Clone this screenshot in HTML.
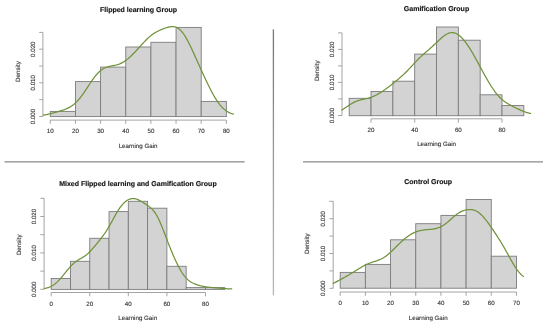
<!DOCTYPE html>
<html><head><meta charset="utf-8"><style>
html,body{margin:0;padding:0;background:#fff;}
svg{display:block;text-rendering:geometricPrecision;}
.t{font-family:"Liberation Sans",Arial,sans-serif;font-weight:bold;font-size:7.0px;fill:#111;stroke:#222;stroke-width:0.15px;}
.l{font-family:"Liberation Sans",Arial,sans-serif;font-size:6.2px;fill:#222;stroke:#555;stroke-width:0.12px;}
.bar{fill:#d3d3d3;stroke:#7c7c7c;stroke-width:0.9;}
.ax{stroke:#9a9a9a;stroke-width:0.9;fill:none;}
.cv{stroke:#70933a;stroke-width:1.25;fill:none;stroke-linejoin:round;stroke-linecap:round;}
.sep{stroke:#8a8a8a;stroke-width:1.2;}
</style></head><body>
<svg width="550" height="326" viewBox="0 0 550 326">
<text x="138.5" y="11.8" text-anchor="middle" class="t">Flipped learning Group</text>
<rect x="50.30" y="111.40" width="25.15" height="5.20" class="bar"/>
<rect x="75.45" y="81.60" width="25.15" height="35.00" class="bar"/>
<rect x="100.60" y="67.10" width="25.15" height="49.50" class="bar"/>
<rect x="125.75" y="47.00" width="25.15" height="69.60" class="bar"/>
<rect x="150.90" y="42.30" width="25.15" height="74.30" class="bar"/>
<rect x="176.05" y="27.40" width="25.15" height="89.20" class="bar"/>
<rect x="201.20" y="101.40" width="25.15" height="15.20" class="bar"/>
<line x1="42.9" y1="116.5" x2="42.9" y2="32.4" class="ax"/>
<line x1="42.9" y1="116.5" x2="39.199999999999996" y2="116.5" class="ax"/>
<line x1="42.9" y1="99.7" x2="39.199999999999996" y2="99.7" class="ax"/>
<line x1="42.9" y1="82.8" x2="39.199999999999996" y2="82.8" class="ax"/>
<line x1="42.9" y1="66.0" x2="39.199999999999996" y2="66.0" class="ax"/>
<line x1="42.9" y1="49.2" x2="39.199999999999996" y2="49.2" class="ax"/>
<line x1="42.9" y1="32.4" x2="39.199999999999996" y2="32.4" class="ax"/>
<text transform="translate(34.9,116.5) rotate(-90)" text-anchor="middle" class="l">0.000</text>
<text transform="translate(34.9,82.8) rotate(-90)" text-anchor="middle" class="l">0.010</text>
<text transform="translate(34.9,49.2) rotate(-90)" text-anchor="middle" class="l">0.020</text>
<text transform="translate(20.1,71.6) rotate(-90)" text-anchor="middle" class="l">Density</text>
<line x1="50.3" y1="120.1" x2="226.35" y2="120.1" class="ax"/>
<line x1="50.3" y1="120.1" x2="50.3" y2="123.8" class="ax"/>
<text x="50.3" y="133.1" text-anchor="middle" class="l">10</text>
<line x1="75.45" y1="120.1" x2="75.45" y2="123.8" class="ax"/>
<text x="75.45" y="133.1" text-anchor="middle" class="l">20</text>
<line x1="100.6" y1="120.1" x2="100.6" y2="123.8" class="ax"/>
<text x="100.6" y="133.1" text-anchor="middle" class="l">30</text>
<line x1="125.75" y1="120.1" x2="125.75" y2="123.8" class="ax"/>
<text x="125.75" y="133.1" text-anchor="middle" class="l">40</text>
<line x1="150.9" y1="120.1" x2="150.9" y2="123.8" class="ax"/>
<text x="150.9" y="133.1" text-anchor="middle" class="l">50</text>
<line x1="176.05" y1="120.1" x2="176.05" y2="123.8" class="ax"/>
<text x="176.05" y="133.1" text-anchor="middle" class="l">60</text>
<line x1="201.2" y1="120.1" x2="201.2" y2="123.8" class="ax"/>
<text x="201.2" y="133.1" text-anchor="middle" class="l">70</text>
<line x1="226.35" y1="120.1" x2="226.35" y2="123.8" class="ax"/>
<text x="226.35" y="133.1" text-anchor="middle" class="l">80</text>
<text x="138.1" y="147.5" text-anchor="middle" class="l">Learning Gain</text>
<path d="M43.30,115.21 L43.80,115.13 L44.30,115.04 L44.80,114.95 L45.30,114.86 L45.80,114.76 L46.30,114.66 L46.80,114.56 L47.30,114.45 L47.80,114.34 L48.30,114.23 L48.80,114.11 L49.30,113.99 L49.80,113.87 L50.30,113.75 L50.80,113.62 L51.30,113.50 L51.80,113.37 L52.30,113.23 L52.80,113.10 L53.30,112.96 L53.80,112.83 L54.30,112.69 L54.80,112.55 L55.30,112.41 L55.80,112.27 L56.30,112.12 L56.80,111.98 L57.30,111.84 L57.80,111.69 L58.30,111.54 L58.80,111.39 L59.30,111.24 L59.80,111.09 L60.30,110.94 L60.80,110.78 L61.30,110.63 L61.80,110.47 L62.30,110.30 L62.80,110.14 L63.30,109.97 L63.80,109.79 L64.30,109.61 L64.80,109.43 L65.30,109.23 L65.80,109.04 L66.30,108.83 L66.80,108.62 L67.30,108.40 L67.80,108.16 L68.30,107.92 L68.80,107.67 L69.30,107.41 L69.80,107.13 L70.30,106.84 L70.80,106.54 L71.30,106.22 L71.80,105.89 L72.30,105.55 L72.80,105.18 L73.30,104.80 L73.80,104.41 L74.30,103.99 L74.80,103.56 L75.30,103.11 L75.80,102.65 L76.30,102.16 L76.80,101.66 L77.30,101.13 L77.80,100.59 L78.30,100.03 L78.80,99.46 L79.30,98.86 L79.80,98.25 L80.30,97.62 L80.80,96.98 L81.30,96.32 L81.80,95.65 L82.30,94.96 L82.80,94.26 L83.30,93.55 L83.80,92.83 L84.30,92.10 L84.80,91.36 L85.30,90.61 L85.80,89.86 L86.30,89.10 L86.80,88.34 L87.30,87.58 L87.80,86.81 L88.30,86.05 L88.80,85.29 L89.30,84.53 L89.80,83.77 L90.30,83.02 L90.80,82.28 L91.30,81.55 L91.80,80.82 L92.30,80.11 L92.80,79.41 L93.30,78.72 L93.80,78.04 L94.30,77.38 L94.80,76.73 L95.30,76.10 L95.80,75.49 L96.30,74.90 L96.80,74.33 L97.30,73.77 L97.80,73.24 L98.30,72.73 L98.80,72.23 L99.30,71.76 L99.80,71.31 L100.30,70.88 L100.80,70.47 L101.30,70.09 L101.80,69.72 L102.30,69.38 L102.80,69.06 L103.30,68.75 L103.80,68.47 L104.30,68.21 L104.80,67.96 L105.30,67.73 L105.80,67.52 L106.30,67.33 L106.80,67.15 L107.30,66.98 L107.80,66.83 L108.30,66.69 L108.80,66.55 L109.30,66.43 L109.80,66.32 L110.30,66.21 L110.80,66.11 L111.30,66.02 L111.80,65.92 L112.30,65.83 L112.80,65.74 L113.30,65.65 L113.80,65.55 L114.30,65.45 L114.80,65.35 L115.30,65.24 L115.80,65.13 L116.30,65.00 L116.80,64.87 L117.30,64.73 L117.80,64.58 L118.30,64.42 L118.80,64.24 L119.30,64.06 L119.80,63.86 L120.30,63.65 L120.80,63.42 L121.30,63.18 L121.80,62.93 L122.30,62.66 L122.80,62.38 L123.30,62.09 L123.80,61.78 L124.30,61.46 L124.80,61.13 L125.30,60.78 L125.80,60.42 L126.30,60.05 L126.80,59.67 L127.30,59.27 L127.80,58.87 L128.30,58.45 L128.80,58.02 L129.30,57.58 L129.80,57.13 L130.30,56.68 L130.80,56.21 L131.30,55.73 L131.80,55.25 L132.30,54.76 L132.80,54.26 L133.30,53.76 L133.80,53.25 L134.30,52.73 L134.80,52.21 L135.30,51.68 L135.80,51.15 L136.30,50.61 L136.80,50.07 L137.30,49.52 L137.80,48.97 L138.30,48.42 L138.80,47.87 L139.30,47.32 L139.80,46.76 L140.30,46.21 L140.80,45.65 L141.30,45.10 L141.80,44.55 L142.30,44.00 L142.80,43.46 L143.30,42.91 L143.80,42.38 L144.30,41.84 L144.80,41.32 L145.30,40.80 L145.80,40.29 L146.30,39.78 L146.80,39.29 L147.30,38.80 L147.80,38.33 L148.30,37.86 L148.80,37.41 L149.30,36.96 L149.80,36.53 L150.30,36.11 L150.80,35.70 L151.30,35.30 L151.80,34.92 L152.30,34.54 L152.80,34.18 L153.30,33.83 L153.80,33.50 L154.30,33.17 L154.80,32.86 L155.30,32.55 L155.80,32.26 L156.30,31.98 L156.80,31.71 L157.30,31.44 L157.80,31.18 L158.30,30.94 L158.80,30.70 L159.30,30.46 L159.80,30.23 L160.30,30.01 L160.80,29.80 L161.30,29.59 L161.80,29.38 L162.30,29.18 L162.80,28.98 L163.30,28.79 L163.80,28.60 L164.30,28.42 L164.80,28.24 L165.30,28.07 L165.80,27.90 L166.30,27.74 L166.80,27.58 L167.30,27.44 L167.80,27.30 L168.30,27.17 L168.80,27.05 L169.30,26.94 L169.80,26.84 L170.30,26.76 L170.80,26.69 L171.30,26.64 L171.80,26.60 L172.30,26.59 L172.80,26.59 L173.30,26.62 L173.80,26.67 L174.30,26.75 L174.80,26.85 L175.30,26.98 L175.80,27.14 L176.30,27.33 L176.80,27.56 L177.30,27.81 L177.80,28.09 L178.30,28.42 L178.80,28.77 L179.30,29.16 L179.80,29.59 L180.30,30.05 L180.80,30.54 L181.30,31.08 L181.80,31.64 L182.30,32.25 L182.80,32.89 L183.30,33.56 L183.80,34.26 L184.30,35.00 L184.80,35.77 L185.30,36.57 L185.80,37.40 L186.30,38.26 L186.80,39.14 L187.30,40.05 L187.80,40.98 L188.30,41.93 L188.80,42.91 L189.30,43.90 L189.80,44.91 L190.30,45.93 L190.80,46.97 L191.30,48.03 L191.80,49.09 L192.30,50.17 L192.80,51.25 L193.30,52.34 L193.80,53.44 L194.30,54.54 L194.80,55.65 L195.30,56.76 L195.80,57.87 L196.30,58.99 L196.80,60.11 L197.30,61.22 L197.80,62.34 L198.30,63.45 L198.80,64.57 L199.30,65.68 L199.80,66.79 L200.30,67.90 L200.80,69.00 L201.30,70.11 L201.80,71.20 L202.30,72.30 L202.80,73.39 L203.30,74.48 L203.80,75.56 L204.30,76.64 L204.80,77.72 L205.30,78.79 L205.80,79.85 L206.30,80.90 L206.80,81.95 L207.30,83.00 L207.80,84.03 L208.30,85.06 L208.80,86.07 L209.30,87.08 L209.80,88.07 L210.30,89.06 L210.80,90.03 L211.30,90.99 L211.80,91.93 L212.30,92.87 L212.80,93.78 L213.30,94.68 L213.80,95.56 L214.30,96.43 L214.80,97.28 L215.30,98.10 L215.80,98.91 L216.30,99.70 L216.80,100.47 L217.30,101.22 L217.80,101.94 L218.30,102.64 L218.80,103.33 L219.30,103.98 L219.80,104.62 L220.30,105.23 L220.80,105.82 L221.30,106.39 L221.80,106.94 L222.30,107.46 L222.80,107.96 L223.30,108.43 L223.80,108.89 L224.30,109.33 L224.80,109.74 L225.30,110.13 L225.80,110.51 L226.30,110.86 L226.80,111.20 L227.30,111.51 L227.80,111.81 L228.30,112.09 L228.80,112.36 L229.30,112.61 L229.80,112.85 L230.30,113.07 L230.80,113.28 L231.30,113.47 L231.80,113.65 L232.30,113.83 L232.80,113.99 L233.30,114.14 L233.40,114.17" class="cv"/>
<text x="436.5" y="11.3" text-anchor="middle" class="t">Gamification Group</text>
<rect x="349.20" y="98.30" width="21.83" height="17.40" class="bar"/>
<rect x="371.03" y="91.50" width="21.83" height="24.20" class="bar"/>
<rect x="392.86" y="81.20" width="21.83" height="34.50" class="bar"/>
<rect x="414.69" y="54.10" width="21.83" height="61.60" class="bar"/>
<rect x="436.52" y="27.00" width="21.83" height="88.70" class="bar"/>
<rect x="458.35" y="40.20" width="21.83" height="75.50" class="bar"/>
<rect x="480.18" y="94.80" width="21.83" height="20.90" class="bar"/>
<rect x="502.01" y="105.50" width="21.83" height="10.20" class="bar"/>
<line x1="342.0" y1="115.5" x2="342.0" y2="32.9" class="ax"/>
<line x1="342.0" y1="115.5" x2="338.1" y2="115.5" class="ax"/>
<line x1="342.0" y1="98.9" x2="338.1" y2="98.9" class="ax"/>
<line x1="342.0" y1="82.4" x2="338.1" y2="82.4" class="ax"/>
<line x1="342.0" y1="65.9" x2="338.1" y2="65.9" class="ax"/>
<line x1="342.0" y1="49.4" x2="338.1" y2="49.4" class="ax"/>
<line x1="342.0" y1="32.9" x2="338.1" y2="32.9" class="ax"/>
<text transform="translate(334.4,115.5) rotate(-90)" text-anchor="middle" class="l">0.000</text>
<text transform="translate(334.4,82.4) rotate(-90)" text-anchor="middle" class="l">0.010</text>
<text transform="translate(334.4,49.4) rotate(-90)" text-anchor="middle" class="l">0.020</text>
<text transform="translate(319.1,70.8) rotate(-90)" text-anchor="middle" class="l">Density</text>
<line x1="371.03" y1="118.8" x2="502.01" y2="118.8" class="ax"/>
<line x1="371.03" y1="118.8" x2="371.03" y2="122.7" class="ax"/>
<text x="371.03" y="131.7" text-anchor="middle" class="l">20</text>
<line x1="414.69" y1="118.8" x2="414.69" y2="122.7" class="ax"/>
<text x="414.69" y="131.7" text-anchor="middle" class="l">40</text>
<line x1="458.35" y1="118.8" x2="458.35" y2="122.7" class="ax"/>
<text x="458.35" y="131.7" text-anchor="middle" class="l">60</text>
<line x1="502.01" y1="118.8" x2="502.01" y2="122.7" class="ax"/>
<text x="502.01" y="131.7" text-anchor="middle" class="l">80</text>
<text x="436.6" y="145.8" text-anchor="middle" class="l">Learning Gain</text>
<path d="M341.90,109.96 L342.40,109.66 L342.90,109.35 L343.40,109.03 L343.90,108.71 L344.40,108.38 L344.90,108.05 L345.40,107.71 L345.90,107.38 L346.40,107.04 L346.90,106.70 L347.40,106.36 L347.90,106.03 L348.40,105.69 L348.90,105.36 L349.40,105.03 L349.90,104.71 L350.40,104.40 L350.90,104.09 L351.40,103.78 L351.90,103.49 L352.40,103.20 L352.90,102.92 L353.40,102.65 L353.90,102.40 L354.40,102.15 L354.90,101.91 L355.40,101.68 L355.90,101.47 L356.40,101.26 L356.90,101.07 L357.40,100.88 L357.90,100.71 L358.40,100.54 L358.90,100.38 L359.40,100.24 L359.90,100.10 L360.40,99.96 L360.90,99.83 L361.40,99.71 L361.90,99.60 L362.40,99.48 L362.90,99.37 L363.40,99.27 L363.90,99.16 L364.40,99.05 L364.90,98.95 L365.40,98.84 L365.90,98.73 L366.40,98.62 L366.90,98.50 L367.40,98.38 L367.90,98.25 L368.40,98.12 L368.90,97.98 L369.40,97.83 L369.90,97.68 L370.40,97.52 L370.90,97.35 L371.40,97.17 L371.90,96.99 L372.40,96.79 L372.90,96.59 L373.40,96.38 L373.90,96.17 L374.40,95.94 L374.90,95.70 L375.40,95.46 L375.90,95.21 L376.40,94.96 L376.90,94.69 L377.40,94.42 L377.90,94.14 L378.40,93.85 L378.90,93.56 L379.40,93.26 L379.90,92.96 L380.40,92.65 L380.90,92.34 L381.40,92.02 L381.90,91.69 L382.40,91.36 L382.90,91.02 L383.40,90.69 L383.90,90.34 L384.40,89.99 L384.90,89.64 L385.40,89.29 L385.90,88.93 L386.40,88.56 L386.90,88.20 L387.40,87.83 L387.90,87.45 L388.40,87.08 L388.90,86.70 L389.40,86.31 L389.90,85.93 L390.40,85.54 L390.90,85.15 L391.40,84.76 L391.90,84.37 L392.40,83.97 L392.90,83.57 L393.40,83.17 L393.90,82.77 L394.40,82.37 L394.90,81.96 L395.40,81.55 L395.90,81.14 L396.40,80.73 L396.90,80.32 L397.40,79.90 L397.90,79.48 L398.40,79.06 L398.90,78.63 L399.40,78.20 L399.90,77.77 L400.40,77.34 L400.90,76.90 L401.40,76.45 L401.90,76.00 L402.40,75.55 L402.90,75.09 L403.40,74.63 L403.90,74.16 L404.40,73.68 L404.90,73.20 L405.40,72.71 L405.90,72.22 L406.40,71.72 L406.90,71.22 L407.40,70.71 L407.90,70.19 L408.40,69.67 L408.90,69.15 L409.40,68.62 L409.90,68.09 L410.40,67.55 L410.90,67.01 L411.40,66.47 L411.90,65.93 L412.40,65.39 L412.90,64.85 L413.40,64.31 L413.90,63.77 L414.40,63.23 L414.90,62.69 L415.40,62.16 L415.90,61.63 L416.40,61.11 L416.90,60.59 L417.40,60.07 L417.90,59.56 L418.40,59.06 L418.90,58.56 L419.40,58.07 L419.90,57.58 L420.40,57.10 L420.90,56.63 L421.40,56.16 L421.90,55.70 L422.40,55.24 L422.90,54.79 L423.40,54.34 L423.90,53.89 L424.40,53.45 L424.90,53.01 L425.40,52.58 L425.90,52.14 L426.40,51.71 L426.90,51.28 L427.40,50.85 L427.90,50.41 L428.40,49.98 L428.90,49.55 L429.40,49.11 L429.90,48.67 L430.40,48.23 L430.90,47.78 L431.40,47.33 L431.90,46.88 L432.40,46.43 L432.90,45.97 L433.40,45.51 L433.90,45.04 L434.40,44.57 L434.90,44.10 L435.40,43.63 L435.90,43.16 L436.40,42.68 L436.90,42.20 L437.40,41.73 L437.90,41.25 L438.40,40.78 L438.90,40.31 L439.40,39.84 L439.90,39.38 L440.40,38.92 L440.90,38.47 L441.40,38.03 L441.90,37.59 L442.40,37.17 L442.90,36.76 L443.40,36.36 L443.90,35.97 L444.40,35.60 L444.90,35.25 L445.40,34.91 L445.90,34.59 L446.40,34.30 L446.90,34.02 L447.40,33.77 L447.90,33.53 L448.40,33.33 L448.90,33.14 L449.40,32.99 L449.90,32.86 L450.40,32.75 L450.90,32.67 L451.40,32.63 L451.90,32.60 L452.40,32.61 L452.90,32.65 L453.40,32.71 L453.90,32.80 L454.40,32.92 L454.90,33.07 L455.40,33.25 L455.90,33.45 L456.40,33.68 L456.90,33.94 L457.40,34.23 L457.90,34.54 L458.40,34.88 L458.90,35.24 L459.40,35.63 L459.90,36.05 L460.40,36.48 L460.90,36.94 L461.40,37.43 L461.90,37.93 L462.40,38.46 L462.90,39.01 L463.40,39.58 L463.90,40.17 L464.40,40.77 L464.90,41.40 L465.40,42.05 L465.90,42.72 L466.40,43.40 L466.90,44.10 L467.40,44.82 L467.90,45.55 L468.40,46.30 L468.90,47.06 L469.40,47.84 L469.90,48.64 L470.40,49.44 L470.90,50.26 L471.40,51.09 L471.90,51.93 L472.40,52.78 L472.90,53.65 L473.40,54.52 L473.90,55.40 L474.40,56.29 L474.90,57.18 L475.40,58.08 L475.90,58.99 L476.40,59.90 L476.90,60.81 L477.40,61.73 L477.90,62.65 L478.40,63.58 L478.90,64.50 L479.40,65.43 L479.90,66.36 L480.40,67.28 L480.90,68.21 L481.40,69.13 L481.90,70.05 L482.40,70.97 L482.90,71.89 L483.40,72.80 L483.90,73.71 L484.40,74.61 L484.90,75.51 L485.40,76.40 L485.90,77.29 L486.40,78.17 L486.90,79.04 L487.40,79.91 L487.90,80.77 L488.40,81.62 L488.90,82.46 L489.40,83.29 L489.90,84.11 L490.40,84.91 L490.90,85.71 L491.40,86.50 L491.90,87.27 L492.40,88.03 L492.90,88.77 L493.40,89.50 L493.90,90.22 L494.40,90.92 L494.90,91.60 L495.40,92.27 L495.90,92.92 L496.40,93.56 L496.90,94.17 L497.40,94.77 L497.90,95.36 L498.40,95.92 L498.90,96.47 L499.40,97.00 L499.90,97.51 L500.40,98.00 L500.90,98.48 L501.40,98.95 L501.90,99.39 L502.40,99.82 L502.90,100.24 L503.40,100.64 L503.90,101.03 L504.40,101.40 L504.90,101.76 L505.40,102.11 L505.90,102.45 L506.40,102.78 L506.90,103.10 L507.40,103.41 L507.90,103.72 L508.40,104.01 L508.90,104.30 L509.40,104.59 L509.90,104.86 L510.40,105.14 L510.90,105.41 L511.40,105.68 L511.90,105.94 L512.40,106.20 L512.90,106.46 L513.40,106.72 L513.90,106.97 L514.40,107.22 L514.90,107.48 L515.40,107.73 L515.90,107.97 L516.40,108.22 L516.90,108.46 L517.40,108.71 L517.90,108.94 L518.40,109.18 L518.90,109.42 L519.40,109.65 L519.90,109.88 L520.40,110.10 L520.90,110.32 L521.40,110.54 L521.90,110.75 L522.40,110.95 L522.90,111.15 L523.40,111.35 L523.90,111.54 L524.40,111.72 L524.90,111.90 L525.40,112.07 L525.90,112.23 L526.40,112.39 L526.90,112.54 L527.40,112.68 L527.90,112.82 L528.40,112.95 L528.90,113.07 L529.40,113.19 L529.90,113.29 L530.40,113.40 L530.50,113.41" class="cv"/>
<text x="137.9" y="185.9" text-anchor="middle" class="t">Mixed Flipped learning and Gamification Group</text>
<rect x="51.20" y="278.50" width="19.28" height="10.90" class="bar"/>
<rect x="70.48" y="261.30" width="19.28" height="28.10" class="bar"/>
<rect x="89.76" y="238.30" width="19.28" height="51.10" class="bar"/>
<rect x="109.04" y="211.60" width="19.28" height="77.80" class="bar"/>
<rect x="128.32" y="201.30" width="19.28" height="88.10" class="bar"/>
<rect x="147.60" y="208.20" width="19.28" height="81.20" class="bar"/>
<rect x="166.88" y="266.30" width="19.28" height="23.10" class="bar"/>
<rect x="186.16" y="287.60" width="19.28" height="1.80" class="bar"/>
<rect x="205.44" y="287.60" width="19.28" height="1.80" class="bar"/>
<line x1="44.1" y1="289.3" x2="44.1" y2="198.3" class="ax"/>
<line x1="44.1" y1="289.3" x2="40.300000000000004" y2="289.3" class="ax"/>
<line x1="44.1" y1="271.1" x2="40.300000000000004" y2="271.1" class="ax"/>
<line x1="44.1" y1="252.9" x2="40.300000000000004" y2="252.9" class="ax"/>
<line x1="44.1" y1="234.7" x2="40.300000000000004" y2="234.7" class="ax"/>
<line x1="44.1" y1="216.5" x2="40.300000000000004" y2="216.5" class="ax"/>
<line x1="44.1" y1="198.3" x2="40.300000000000004" y2="198.3" class="ax"/>
<text transform="translate(36.2,289.3) rotate(-90)" text-anchor="middle" class="l">0.000</text>
<text transform="translate(36.2,252.9) rotate(-90)" text-anchor="middle" class="l">0.010</text>
<text transform="translate(36.2,216.5) rotate(-90)" text-anchor="middle" class="l">0.020</text>
<text transform="translate(20.9,244.8) rotate(-90)" text-anchor="middle" class="l">Density</text>
<line x1="51.2" y1="292.5" x2="205.44" y2="292.5" class="ax"/>
<line x1="51.2" y1="292.5" x2="51.2" y2="296.3" class="ax"/>
<text x="51.2" y="305.5" text-anchor="middle" class="l">0</text>
<line x1="89.76" y1="292.5" x2="89.76" y2="296.3" class="ax"/>
<text x="89.76" y="305.5" text-anchor="middle" class="l">20</text>
<line x1="128.32" y1="292.5" x2="128.32" y2="296.3" class="ax"/>
<text x="128.32" y="305.5" text-anchor="middle" class="l">40</text>
<line x1="166.88" y1="292.5" x2="166.88" y2="296.3" class="ax"/>
<text x="166.88" y="305.5" text-anchor="middle" class="l">60</text>
<line x1="205.44" y1="292.5" x2="205.44" y2="296.3" class="ax"/>
<text x="205.44" y="305.5" text-anchor="middle" class="l">80</text>
<text x="137.7" y="319.9" text-anchor="middle" class="l">Learning Gain</text>
<path d="M44.30,288.51 L44.80,288.43 L45.30,288.33 L45.80,288.23 L46.30,288.11 L46.80,287.99 L47.30,287.85 L47.80,287.70 L48.30,287.54 L48.80,287.37 L49.30,287.18 L49.80,286.98 L50.30,286.76 L50.80,286.52 L51.30,286.27 L51.80,286.01 L52.30,285.72 L52.80,285.42 L53.30,285.10 L53.80,284.76 L54.30,284.41 L54.80,284.03 L55.30,283.64 L55.80,283.23 L56.30,282.80 L56.80,282.36 L57.30,281.89 L57.80,281.41 L58.30,280.91 L58.80,280.40 L59.30,279.87 L59.80,279.33 L60.30,278.78 L60.80,278.21 L61.30,277.63 L61.80,277.04 L62.30,276.44 L62.80,275.83 L63.30,275.22 L63.80,274.60 L64.30,273.98 L64.80,273.35 L65.30,272.73 L65.80,272.10 L66.30,271.48 L66.80,270.86 L67.30,270.25 L67.80,269.64 L68.30,269.04 L68.80,268.45 L69.30,267.87 L69.80,267.30 L70.30,266.74 L70.80,266.20 L71.30,265.68 L71.80,265.17 L72.30,264.67 L72.80,264.19 L73.30,263.73 L73.80,263.29 L74.30,262.86 L74.80,262.45 L75.30,262.06 L75.80,261.68 L76.30,261.32 L76.80,260.97 L77.30,260.63 L77.80,260.31 L78.30,259.99 L78.80,259.69 L79.30,259.39 L79.80,259.10 L80.30,258.81 L80.80,258.52 L81.30,258.23 L81.80,257.93 L82.30,257.64 L82.80,257.33 L83.30,257.02 L83.80,256.70 L84.30,256.37 L84.80,256.02 L85.30,255.66 L85.80,255.29 L86.30,254.90 L86.80,254.49 L87.30,254.07 L87.80,253.63 L88.30,253.17 L88.80,252.70 L89.30,252.21 L89.80,251.71 L90.30,251.20 L90.80,250.67 L91.30,250.12 L91.80,249.57 L92.30,249.01 L92.80,248.44 L93.30,247.86 L93.80,247.28 L94.30,246.69 L94.80,246.09 L95.30,245.49 L95.80,244.89 L96.30,244.29 L96.80,243.68 L97.30,243.08 L97.80,242.46 L98.30,241.85 L98.80,241.24 L99.30,240.62 L99.80,239.99 L100.30,239.36 L100.80,238.73 L101.30,238.09 L101.80,237.43 L102.30,236.77 L102.80,236.10 L103.30,235.42 L103.80,234.72 L104.30,234.01 L104.80,233.29 L105.30,232.55 L105.80,231.79 L106.30,231.02 L106.80,230.23 L107.30,229.43 L107.80,228.61 L108.30,227.77 L108.80,226.93 L109.30,226.06 L109.80,225.19 L110.30,224.30 L110.80,223.41 L111.30,222.50 L111.80,221.59 L112.30,220.68 L112.80,219.76 L113.30,218.85 L113.80,217.94 L114.30,217.03 L114.80,216.13 L115.30,215.23 L115.80,214.35 L116.30,213.48 L116.80,212.63 L117.30,211.79 L117.80,210.97 L118.30,210.18 L118.80,209.40 L119.30,208.65 L119.80,207.92 L120.30,207.22 L120.80,206.54 L121.30,205.89 L121.80,205.27 L122.30,204.67 L122.80,204.10 L123.30,203.57 L123.80,203.06 L124.30,202.58 L124.80,202.12 L125.30,201.70 L125.80,201.30 L126.30,200.93 L126.80,200.59 L127.30,200.28 L127.80,199.99 L128.30,199.73 L128.80,199.50 L129.30,199.30 L129.80,199.12 L130.30,198.96 L130.80,198.84 L131.30,198.73 L131.80,198.66 L132.30,198.61 L132.80,198.58 L133.30,198.58 L133.80,198.61 L134.30,198.66 L134.80,198.73 L135.30,198.83 L135.80,198.94 L136.30,199.08 L136.80,199.25 L137.30,199.43 L137.80,199.63 L138.30,199.84 L138.80,200.08 L139.30,200.32 L139.80,200.58 L140.30,200.86 L140.80,201.14 L141.30,201.43 L141.80,201.73 L142.30,202.03 L142.80,202.34 L143.30,202.65 L143.80,202.96 L144.30,203.28 L144.80,203.60 L145.30,203.92 L145.80,204.24 L146.30,204.57 L146.80,204.90 L147.30,205.23 L147.80,205.57 L148.30,205.93 L148.80,206.29 L149.30,206.67 L149.80,207.06 L150.30,207.47 L150.80,207.90 L151.30,208.36 L151.80,208.84 L152.30,209.35 L152.80,209.90 L153.30,210.48 L153.80,211.09 L154.30,211.75 L154.80,212.44 L155.30,213.18 L155.80,213.96 L156.30,214.78 L156.80,215.64 L157.30,216.55 L157.80,217.50 L158.30,218.49 L158.80,219.51 L159.30,220.58 L159.80,221.68 L160.30,222.81 L160.80,223.98 L161.30,225.17 L161.80,226.38 L162.30,227.62 L162.80,228.87 L163.30,230.14 L163.80,231.43 L164.30,232.72 L164.80,234.02 L165.30,235.33 L165.80,236.64 L166.30,237.94 L166.80,239.25 L167.30,240.55 L167.80,241.85 L168.30,243.13 L168.80,244.41 L169.30,245.68 L169.80,246.94 L170.30,248.19 L170.80,249.43 L171.30,250.65 L171.80,251.86 L172.30,253.06 L172.80,254.24 L173.30,255.41 L173.80,256.56 L174.30,257.69 L174.80,258.81 L175.30,259.91 L175.80,260.99 L176.30,262.05 L176.80,263.10 L177.30,264.12 L177.80,265.12 L178.30,266.10 L178.80,267.06 L179.30,267.99 L179.80,268.89 L180.30,269.78 L180.80,270.63 L181.30,271.46 L181.80,272.25 L182.30,273.03 L182.80,273.77 L183.30,274.48 L183.80,275.16 L184.30,275.82 L184.80,276.44 L185.30,277.04 L185.80,277.61 L186.30,278.15 L186.80,278.66 L187.30,279.15 L187.80,279.61 L188.30,280.04 L188.80,280.45 L189.30,280.84 L189.80,281.21 L190.30,281.56 L190.80,281.89 L191.30,282.20 L191.80,282.49 L192.30,282.76 L192.80,283.03 L193.30,283.28 L193.80,283.51 L194.30,283.73 L194.80,283.95 L195.30,284.15 L195.80,284.34 L196.30,284.53 L196.80,284.70 L197.30,284.87 L197.80,285.03 L198.30,285.19 L198.80,285.34 L199.30,285.48 L199.80,285.61 L200.30,285.74 L200.80,285.87 L201.30,285.99 L201.80,286.10 L202.30,286.21 L202.80,286.31 L203.30,286.41 L203.80,286.50 L204.30,286.59 L204.80,286.68 L205.30,286.76 L205.80,286.83 L206.30,286.91 L206.80,286.97 L207.30,287.04 L207.80,287.10 L208.30,287.16 L208.80,287.22 L209.30,287.27 L209.80,287.32 L210.30,287.37 L210.80,287.42 L211.30,287.46 L211.80,287.51 L212.30,287.55 L212.80,287.59 L213.30,287.63 L213.80,287.68 L214.30,287.72 L214.80,287.76 L215.30,287.80 L215.80,287.84 L216.30,287.88 L216.80,287.92 L217.30,287.97 L217.80,288.01 L218.30,288.05 L218.80,288.09 L219.30,288.14 L219.80,288.18 L220.30,288.22 L220.80,288.26 L221.30,288.31 L221.80,288.35 L222.30,288.39 L222.80,288.43 L223.30,288.47 L223.80,288.51 L224.30,288.55 L224.80,288.59 L225.30,288.63 L225.80,288.66 L226.30,288.70 L226.80,288.73 L227.30,288.76 L227.80,288.80 L228.30,288.83 L228.80,288.85 L229.30,288.88 L229.80,288.91 L230.30,288.93 L230.80,288.95 L231.30,288.98 L231.70,288.99" class="cv"/>
<text x="428.2" y="183.8" text-anchor="middle" class="t">Control Group</text>
<rect x="340.20" y="272.40" width="25.18" height="15.80" class="bar"/>
<rect x="365.38" y="264.40" width="25.18" height="23.80" class="bar"/>
<rect x="390.56" y="239.80" width="25.18" height="48.40" class="bar"/>
<rect x="415.74" y="223.70" width="25.18" height="64.50" class="bar"/>
<rect x="440.92" y="215.40" width="25.18" height="72.80" class="bar"/>
<rect x="466.10" y="199.50" width="25.18" height="88.70" class="bar"/>
<rect x="491.28" y="256.20" width="25.18" height="32.00" class="bar"/>
<line x1="333.2" y1="288.3" x2="333.2" y2="201.3" class="ax"/>
<line x1="333.2" y1="288.3" x2="329.4" y2="288.3" class="ax"/>
<line x1="333.2" y1="270.9" x2="329.4" y2="270.9" class="ax"/>
<line x1="333.2" y1="253.5" x2="329.4" y2="253.5" class="ax"/>
<line x1="333.2" y1="236.1" x2="329.4" y2="236.1" class="ax"/>
<line x1="333.2" y1="218.7" x2="329.4" y2="218.7" class="ax"/>
<line x1="333.2" y1="201.3" x2="329.4" y2="201.3" class="ax"/>
<text transform="translate(324.7,288.3) rotate(-90)" text-anchor="middle" class="l">0.000</text>
<text transform="translate(324.7,253.5) rotate(-90)" text-anchor="middle" class="l">0.010</text>
<text transform="translate(324.7,218.7) rotate(-90)" text-anchor="middle" class="l">0.020</text>
<text transform="translate(309.2,243.7) rotate(-90)" text-anchor="middle" class="l">Density</text>
<line x1="340.2" y1="292.0" x2="516.46" y2="292.0" class="ax"/>
<line x1="340.2" y1="292.0" x2="340.2" y2="295.8" class="ax"/>
<text x="340.2" y="305.0" text-anchor="middle" class="l">0</text>
<line x1="365.38" y1="292.0" x2="365.38" y2="295.8" class="ax"/>
<text x="365.38" y="305.0" text-anchor="middle" class="l">10</text>
<line x1="390.56" y1="292.0" x2="390.56" y2="295.8" class="ax"/>
<text x="390.56" y="305.0" text-anchor="middle" class="l">20</text>
<line x1="415.74" y1="292.0" x2="415.74" y2="295.8" class="ax"/>
<text x="415.74" y="305.0" text-anchor="middle" class="l">30</text>
<line x1="440.92" y1="292.0" x2="440.92" y2="295.8" class="ax"/>
<text x="440.92" y="305.0" text-anchor="middle" class="l">40</text>
<line x1="466.1" y1="292.0" x2="466.1" y2="295.8" class="ax"/>
<text x="466.1" y="305.0" text-anchor="middle" class="l">50</text>
<line x1="491.28" y1="292.0" x2="491.28" y2="295.8" class="ax"/>
<text x="491.28" y="305.0" text-anchor="middle" class="l">60</text>
<line x1="516.46" y1="292.0" x2="516.46" y2="295.8" class="ax"/>
<text x="516.46" y="305.0" text-anchor="middle" class="l">70</text>
<text x="428.2" y="319.6" text-anchor="middle" class="l">Learning Gain</text>
<path d="M333.15,283.29 L333.65,283.06 L334.15,282.83 L334.65,282.60 L335.15,282.35 L335.65,282.11 L336.15,281.86 L336.65,281.61 L337.15,281.35 L337.65,281.09 L338.15,280.83 L338.65,280.57 L339.15,280.30 L339.65,280.03 L340.15,279.76 L340.65,279.49 L341.15,279.22 L341.65,278.94 L342.15,278.67 L342.65,278.39 L343.15,278.11 L343.65,277.83 L344.15,277.55 L344.65,277.27 L345.15,276.98 L345.65,276.70 L346.15,276.42 L346.65,276.13 L347.15,275.85 L347.65,275.56 L348.15,275.27 L348.65,274.98 L349.15,274.69 L349.65,274.40 L350.15,274.10 L350.65,273.81 L351.15,273.51 L351.65,273.21 L352.15,272.91 L352.65,272.61 L353.15,272.31 L353.65,272.00 L354.15,271.70 L354.65,271.39 L355.15,271.08 L355.65,270.77 L356.15,270.46 L356.65,270.15 L357.15,269.83 L357.65,269.52 L358.15,269.21 L358.65,268.90 L359.15,268.59 L359.65,268.28 L360.15,267.98 L360.65,267.68 L361.15,267.38 L361.65,267.08 L362.15,266.79 L362.65,266.50 L363.15,266.22 L363.65,265.94 L364.15,265.67 L364.65,265.41 L365.15,265.15 L365.65,264.90 L366.15,264.65 L366.65,264.42 L367.15,264.19 L367.65,263.96 L368.15,263.75 L368.65,263.54 L369.15,263.34 L369.65,263.15 L370.15,262.96 L370.65,262.78 L371.15,262.60 L371.65,262.43 L372.15,262.26 L372.65,262.10 L373.15,261.93 L373.65,261.77 L374.15,261.62 L374.65,261.46 L375.15,261.30 L375.65,261.14 L376.15,260.98 L376.65,260.81 L377.15,260.64 L377.65,260.46 L378.15,260.28 L378.65,260.09 L379.15,259.89 L379.65,259.68 L380.15,259.46 L380.65,259.23 L381.15,259.00 L381.65,258.74 L382.15,258.48 L382.65,258.21 L383.15,257.92 L383.65,257.62 L384.15,257.30 L384.65,256.98 L385.15,256.64 L385.65,256.28 L386.15,255.92 L386.65,255.54 L387.15,255.15 L387.65,254.75 L388.15,254.34 L388.65,253.91 L389.15,253.48 L389.65,253.04 L390.15,252.59 L390.65,252.13 L391.15,251.66 L391.65,251.19 L392.15,250.71 L392.65,250.23 L393.15,249.74 L393.65,249.25 L394.15,248.76 L394.65,248.26 L395.15,247.77 L395.65,247.27 L396.15,246.77 L396.65,246.28 L397.15,245.78 L397.65,245.29 L398.15,244.80 L398.65,244.31 L399.15,243.83 L399.65,243.35 L400.15,242.87 L400.65,242.40 L401.15,241.94 L401.65,241.48 L402.15,241.02 L402.65,240.57 L403.15,240.13 L403.65,239.70 L404.15,239.27 L404.65,238.85 L405.15,238.44 L405.65,238.04 L406.15,237.64 L406.65,237.25 L407.15,236.87 L407.65,236.51 L408.15,236.15 L408.65,235.80 L409.15,235.46 L409.65,235.13 L410.15,234.81 L410.65,234.50 L411.15,234.20 L411.65,233.91 L412.15,233.64 L412.65,233.37 L413.15,233.12 L413.65,232.87 L414.15,232.64 L414.65,232.42 L415.15,232.20 L415.65,232.00 L416.15,231.81 L416.65,231.63 L417.15,231.46 L417.65,231.30 L418.15,231.15 L418.65,231.01 L419.15,230.88 L419.65,230.75 L420.15,230.64 L420.65,230.53 L421.15,230.43 L421.65,230.33 L422.15,230.25 L422.65,230.17 L423.15,230.09 L423.65,230.02 L424.15,229.96 L424.65,229.89 L425.15,229.84 L425.65,229.78 L426.15,229.73 L426.65,229.68 L427.15,229.64 L427.65,229.59 L428.15,229.55 L428.65,229.50 L429.15,229.46 L429.65,229.41 L430.15,229.36 L430.65,229.31 L431.15,229.26 L431.65,229.21 L432.15,229.15 L432.65,229.08 L433.15,229.01 L433.65,228.94 L434.15,228.85 L434.65,228.76 L435.15,228.66 L435.65,228.56 L436.15,228.44 L436.65,228.31 L437.15,228.17 L437.65,228.02 L438.15,227.86 L438.65,227.68 L439.15,227.49 L439.65,227.29 L440.15,227.08 L440.65,226.84 L441.15,226.60 L441.65,226.34 L442.15,226.06 L442.65,225.77 L443.15,225.46 L443.65,225.14 L444.15,224.81 L444.65,224.46 L445.15,224.10 L445.65,223.72 L446.15,223.33 L446.65,222.93 L447.15,222.53 L447.65,222.11 L448.15,221.68 L448.65,221.25 L449.15,220.81 L449.65,220.37 L450.15,219.92 L450.65,219.47 L451.15,219.02 L451.65,218.57 L452.15,218.12 L452.65,217.68 L453.15,217.24 L453.65,216.81 L454.15,216.38 L454.65,215.96 L455.15,215.55 L455.65,215.15 L456.15,214.77 L456.65,214.39 L457.15,214.03 L457.65,213.67 L458.15,213.34 L458.65,213.01 L459.15,212.70 L459.65,212.41 L460.15,212.13 L460.65,211.86 L461.15,211.61 L461.65,211.37 L462.15,211.15 L462.65,210.94 L463.15,210.75 L463.65,210.57 L464.15,210.41 L464.65,210.26 L465.15,210.12 L465.65,210.00 L466.15,209.89 L466.65,209.79 L467.15,209.71 L467.65,209.65 L468.15,209.59 L468.65,209.56 L469.15,209.53 L469.65,209.52 L470.15,209.53 L470.65,209.56 L471.15,209.59 L471.65,209.65 L472.15,209.73 L472.65,209.82 L473.15,209.93 L473.65,210.06 L474.15,210.21 L474.65,210.38 L475.15,210.57 L475.65,210.79 L476.15,211.02 L476.65,211.28 L477.15,211.56 L477.65,211.86 L478.15,212.19 L478.65,212.54 L479.15,212.91 L479.65,213.31 L480.15,213.73 L480.65,214.17 L481.15,214.63 L481.65,215.12 L482.15,215.62 L482.65,216.15 L483.15,216.69 L483.65,217.25 L484.15,217.83 L484.65,218.43 L485.15,219.04 L485.65,219.67 L486.15,220.31 L486.65,220.96 L487.15,221.62 L487.65,222.30 L488.15,222.98 L488.65,223.67 L489.15,224.37 L489.65,225.07 L490.15,225.79 L490.65,226.50 L491.15,227.22 L491.65,227.95 L492.15,228.68 L492.65,229.41 L493.15,230.15 L493.65,230.89 L494.15,231.63 L494.65,232.37 L495.15,233.12 L495.65,233.88 L496.15,234.64 L496.65,235.40 L497.15,236.17 L497.65,236.94 L498.15,237.72 L498.65,238.50 L499.15,239.30 L499.65,240.10 L500.15,240.90 L500.65,241.72 L501.15,242.54 L501.65,243.37 L502.15,244.21 L502.65,245.05 L503.15,245.91 L503.65,246.77 L504.15,247.64 L504.65,248.52 L505.15,249.41 L505.65,250.30 L506.15,251.19 L506.65,252.09 L507.15,253.00 L507.65,253.91 L508.15,254.82 L508.65,255.73 L509.15,256.63 L509.65,257.54 L510.15,258.44 L510.65,259.34 L511.15,260.23 L511.65,261.11 L512.15,261.98 L512.65,262.84 L513.15,263.69 L513.65,264.53 L514.15,265.34 L514.65,266.14 L515.15,266.92 L515.65,267.69 L516.15,268.43 L516.65,269.15 L517.15,269.84 L517.65,270.51 L518.15,271.16 L518.65,271.78 L519.15,272.37 L519.65,272.94 L520.15,273.48 L520.65,273.99 L521.15,274.48 L521.65,274.94 L522.15,275.37 L522.65,275.78 L523.15,276.16 L523.50,276.41" class="cv"/>
<line x1="4.6" y1="161.95" x2="244.7" y2="161.95" class="sep"/>
<line x1="303" y1="161.95" x2="543" y2="161.95" class="sep"/>
<defs><linearGradient id="vg" x1="0" y1="29.4" x2="0" y2="295.4" gradientUnits="userSpaceOnUse"><stop offset="0" stop-color="#767676"/><stop offset="0.3" stop-color="#8c8c8c"/><stop offset="0.6" stop-color="#a2a2a2"/><stop offset="1" stop-color="#b8b8b8"/></linearGradient></defs>
<rect x="272.75" y="29.4" width="1.3" height="266" fill="url(#vg)"/>
</svg>
</body></html>
